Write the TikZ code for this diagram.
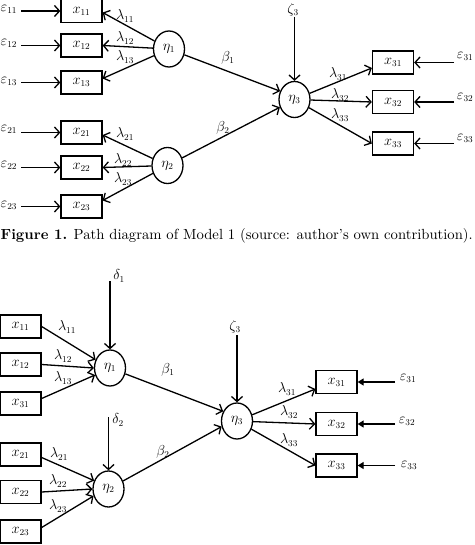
\documentclass[tikz,border=0pt]{standalone}
\usetikzlibrary{arrows.meta,shapes.geometric}
\begin{document}
\begin{tikzpicture}[x=1pt,y=-1pt,
  lw/.style={line width=1.3pt},
  box/.style={draw,lw,minimum width=41pt,minimum height=23pt,inner sep=0pt,font=\fontsize{13.5}{15}\selectfont},
  lat/.style={draw,ellipse,lw,minimum width=31pt,minimum height=36pt,inner sep=0pt,font=\fontsize{13.5}{15}\selectfont},
  lab/.style={inner sep=0pt,font=\fontsize{13.5}{15}\selectfont},
  arr/.style={lw,-{Straight Barb[length=5pt,width=11pt]}},
  farr/.style={lw,-{Triangle[length=6pt,width=7pt]}}
]
\useasboundingbox (0,0) rectangle (474,545);
\clip (0,0) rectangle (474,545);

% ---------------- top diagram ----------------
\node[box] (a11) at (81.5,11) {$x_{11}$};
\node[box] (a12) at (81.5,45.5) {$x_{12}$};
\node[box] (a13) at (81.5,82.5) {$x_{13}$};
\node[box] (a21) at (81.5,132.5) {$x_{21}$};
\node[box] (a22) at (81.5,167.5) {$x_{22}$};
\node[box] (a23) at (81.5,206.5) {$x_{23}$};
\node[lat] (e1) at (169,49) {$\eta_1$};
\node[lat] (e2) at (167.5,165.5) {$\eta_2$};
\node[lat] (e3) at (294.5,99.5) {$\eta_3$};
\node[box] (c31) at (393,62.5) {$x_{31}$};
\node[box] (c32) at (393,102) {$x_{32}$};
\node[box] (c33) at (393,143.5) {$x_{33}$};

% error labels left
\node[lab,anchor=west] (ea11) at (0.5,9.5) {$\varepsilon_{11}$};
\node[lab,anchor=west] (ea12) at (0.5,43) {$\varepsilon_{12}$};
\node[lab,anchor=west] (ea13) at (0.5,81) {$\varepsilon_{13}$};
\node[lab,anchor=west] (ea21) at (0.5,129) {$\varepsilon_{21}$};
\node[lab,anchor=west] (ea22) at (0.5,165) {$\varepsilon_{22}$};
\node[lab,anchor=west] (ea23) at (0.5,205) {$\varepsilon_{23}$};
\coordinate (sa11) at (21,11);
\coordinate (sa12) at (21,45.5);
\coordinate (sa13) at (21,82.5);
\coordinate (sa21) at (21,132.5);
\coordinate (sa22) at (21,167.5);
\coordinate (sa23) at (21,206.5);
\draw[arr] (sa11) -- (a11.west);
\draw[arr] (sa12) -- (a12.west);
\draw[arr] (sa13) -- (a13.west);
\draw[arr] (sa21) -- (a21.west);
\draw[arr] (sa22) -- (a22.west);
\draw[arr] (sa23) -- (a23.west);

% loadings
\draw[arr] (e1) -- ([yshift=-1.5pt]a11.east);
\draw[arr] (e1) -- (a12.east);
\draw[arr] (e1) -- ([yshift=4pt]a13.east);
\draw[arr] (e2) -- ([yshift=-2.5pt]a21.east);
\draw[arr] (e2) -- (a22.east);
\draw[arr] (e2) -- ([yshift=6pt]a23.east);
\node[lab] (la11) at (125,16) {$\lambda_{11}$};
\node[lab] (la12) at (125,38) {$\lambda_{12}$};
\node[lab] (la13) at (125,57) {$\lambda_{13}$};
\node[lab] (la21) at (125,134) {$\lambda_{21}$};
\node[lab] (la22) at (123,160) {$\lambda_{22}$};
\node[lab] (la23) at (123,179) {$\lambda_{23}$};

% structural paths
\draw[arr] (e1) -- (e3.150);
\draw[arr] (e2) -- (e3.208);
\node[lab] (ba1) at (228,58) {$\beta_1$};
\node[lab] (ba2) at (223,128) {$\beta_2$};
\node[lab] (za3) at (293,10) {$\zeta_3$};
\coordinate (sz3) at (294.5,17);
\draw[arr] (sz3) -- (e3.north);

% eta3 loadings
\draw[arr] (e3) -- ([yshift=-5.5pt]c31.west);
\draw[arr] (e3) -- (c32.west);
\draw[arr] (e3) -- (c33.west);
\node[lab] (la31) at (338,74) {$\lambda_{31}$};
\node[lab] (la32) at (340,95) {$\lambda_{32}$};
\node[lab] (la33) at (340,115) {$\lambda_{33}$};

% right errors
\node[lab,anchor=east] (ec31) at (473.5,56) {$\varepsilon_{31}$};
\node[lab,anchor=east] (ec32) at (473.5,97) {$\varepsilon_{32}$};
\node[lab,anchor=east] (ec33) at (473.5,138) {$\varepsilon_{33}$};
\coordinate (sc31) at (454,62.5);
\coordinate (sc32) at (454,102);
\coordinate (sc33) at (454,143.5);
\draw[arr] (sc31) -- (c31.east);
\draw[arr] (sc32) -- (c32.east);
\draw[arr] (sc33) -- (c33.east);

% caption
\node[anchor=west,inner sep=0pt] (cap) at (0.5,236) {\resizebox{472pt}{!}{\textbf{Figure 1.} Path diagram of Model 1 (source: author’s own contribution).}};

% ---------------- bottom diagram ----------------
\node[box] (b11) at (20.5,326.5) {$x_{11}$};
\node[box] (b12) at (20.5,364.5) {$x_{12}$};
\node[box] (b13) at (20.5,403.5) {$x_{31}$};
\node[box] (b21) at (20.5,454.5) {$x_{21}$};
\node[box] (b22) at (20.5,492) {$x_{22}$};
\node[box] (b23) at (20.5,531.5) {$x_{23}$};
\node[lat] (f1) at (110,368) {$\eta_1$};
\node[lat] (f2) at (108.5,489) {$\eta_2$};
\node[lat] (f3) at (237,421) {$\eta_3$};
\node[box] (d31) at (336.5,382) {$x_{31}$};
\node[box] (d32) at (336.5,424) {$x_{32}$};
\node[box] (d33) at (336.5,465.5) {$x_{33}$};

\draw[arr] (b11.east) -- (f1.150);
\draw[arr] (b12.east) -- (f1.180);
\draw[arr] ([yshift=5pt]b13.east) -- (f1.205);
\draw[arr] ([yshift=-3pt]b21.east) -- (f2.150);
\draw[arr] (b22.east) -- (f2.180);
\draw[arr] ([yshift=4pt]b23.east) -- (f2.205);
\node[lab] (lb11) at (67,327) {$\lambda_{11}$};
\node[lab] (lb12) at (63,356) {$\lambda_{12}$};
\node[lab] (lb13) at (63,378) {$\lambda_{13}$};
\node[lab] (lb21) at (59,454) {$\lambda_{21}$};
\node[lab] (lb22) at (58,481) {$\lambda_{22}$};
\node[lab] (lb23) at (58,506) {$\lambda_{23}$};

\node[lab] (db1) at (119,276) {$\delta_1$};
\coordinate (sd1) at (110,281);
\draw[arr] (sd1) -- (f1.north);
\node[lab] (db2) at (118,420) {$\delta_2$};
\coordinate (sd2) at (108.5,417);
\draw[arr] (sd2) -- (f2.north);
\node[lab] (zb3) at (235,327) {$\zeta_3$};
\coordinate (szb) at (237,335);
\draw[arr] (szb) -- (f3.north);

\draw[arr] (f1) -- (f3.145);
\draw[arr] (f2) -- (f3.200);
\node[lab] (bb1) at (168,370) {$\beta_1$};
\node[lab] (bb2) at (163,452) {$\beta_2$};

\draw[arr] (f3) -- ([yshift=-7pt]d31.west);
\draw[arr] (f3) -- (d32.west);
\draw[arr] (f3) -- (d33.west);
\node[lab] (lb31) at (287,389) {$\lambda_{31}$};
\node[lab] (lb32) at (289,412) {$\lambda_{32}$};
\node[lab] (lb33) at (289,440) {$\lambda_{33}$};

\node[lab] (ed31) at (408,378) {$\varepsilon_{31}$};
\node[lab] (ed32) at (407,421) {$\varepsilon_{32}$};
\node[lab] (ed33) at (409,465) {$\varepsilon_{33}$};
\coordinate (sd31) at (395,382);
\coordinate (sd32) at (395,424);
\coordinate (sd33) at (395,465.5);
\draw[farr] (sd31) -- (d31.east);
\draw[farr] (sd32) -- (d32.east);
\draw[farr] (sd33) -- (d33.east);
\end{tikzpicture}
\end{document}
